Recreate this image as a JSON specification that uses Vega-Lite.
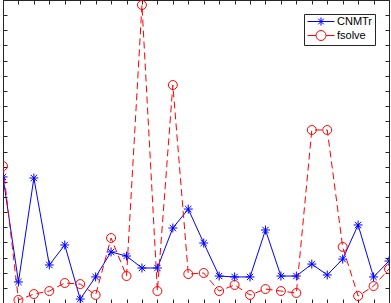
{
  "$schema": "https://vega.github.io/schema/vega-lite/v6.json",
  "width": 386,
  "height": 303,
  "autosize": {"type": "none"},
  "padding": {"left": 3, "top": 0, "right": 2, "bottom": 0},
  "background": "white",
  "config": {
    "view": {"stroke": null},
    "axis": {
      "labels": false,
      "title": null,
      "grid": false,
      "domainColor": "#262626",
      "domainWidth": 1,
      "tickColor": "#262626",
      "tickWidth": 1,
      "tickSize": -4
    },
    "legend": {
      "labelFont": "Liberation Sans",
      "labelFontSize": 11,
      "labelColor": "black",
      "strokeColor": "#262626",
      "fillColor": "white",
      "padding": 2,
      "rowPadding": 0,
      "cornerRadius": 0
    }
  },
  "data": {
    "values": [
      {"i": 1, "s": "CNMTr", "v": 8.32}, {"i": 2, "s": "CNMTr", "v": 1.39}, {"i": 3, "s": "CNMTr", "v": 8.25},
      {"i": 4, "s": "CNMTr", "v": 2.51}, {"i": 5, "s": "CNMTr", "v": 3.83}, {"i": 6, "s": "CNMTr", "v": 0.26},
      {"i": 7, "s": "CNMTr", "v": 1.72}, {"i": 8, "s": "CNMTr", "v": 3.37}, {"i": 9, "s": "CNMTr", "v": 3.10},
      {"i": 10, "s": "CNMTr", "v": 2.31}, {"i": 11, "s": "CNMTr", "v": 2.31}, {"i": 12, "s": "CNMTr", "v": 4.95},
      {"i": 13, "s": "CNMTr", "v": 6.20}, {"i": 14, "s": "CNMTr", "v": 3.96}, {"i": 15, "s": "CNMTr", "v": 1.78},
      {"i": 16, "s": "CNMTr", "v": 1.72}, {"i": 17, "s": "CNMTr", "v": 1.72}, {"i": 18, "s": "CNMTr", "v": 4.82},
      {"i": 19, "s": "CNMTr", "v": 1.78}, {"i": 20, "s": "CNMTr", "v": 1.78}, {"i": 21, "s": "CNMTr", "v": 2.57},
      {"i": 22, "s": "CNMTr", "v": 1.85}, {"i": 23, "s": "CNMTr", "v": 2.90}, {"i": 24, "s": "CNMTr", "v": 5.15},
      {"i": 25, "s": "CNMTr", "v": 1.72}, {"i": 26, "s": "CNMTr", "v": 2.77},
      {"i": 1, "s": "fsolve", "v": 9.04}, {"i": 2, "s": "fsolve", "v": 0.20}, {"i": 3, "s": "fsolve", "v": 0.59},
      {"i": 4, "s": "fsolve", "v": 0.79}, {"i": 5, "s": "fsolve", "v": 1.32}, {"i": 6, "s": "fsolve", "v": 1.25},
      {"i": 7, "s": "fsolve", "v": 0.53}, {"i": 8, "s": "fsolve", "v": 4.29}, {"i": 9, "s": "fsolve", "v": 1.78},
      {"i": 10, "s": "fsolve", "v": 19.67}, {"i": 11, "s": "fsolve", "v": 0.79}, {"i": 12, "s": "fsolve", "v": 14.39},
      {"i": 13, "s": "fsolve", "v": 1.91}, {"i": 14, "s": "fsolve", "v": 1.98}, {"i": 15, "s": "fsolve", "v": 0.79},
      {"i": 16, "s": "fsolve", "v": 1.19}, {"i": 17, "s": "fsolve", "v": 0.53}, {"i": 18, "s": "fsolve", "v": 0.92},
      {"i": 19, "s": "fsolve", "v": 0.79}, {"i": 20, "s": "fsolve", "v": 0.66}, {"i": 21, "s": "fsolve", "v": 11.42},
      {"i": 22, "s": "fsolve", "v": 11.42}, {"i": 23, "s": "fsolve", "v": 3.70}, {"i": 24, "s": "fsolve", "v": 0.46},
      {"i": 25, "s": "fsolve", "v": 1.12}, {"i": 26, "s": "fsolve", "v": 2.24}
    ]
  },
  "resolve": {"axis": {"x": "independent", "y": "independent"}},
  "layer": [
    {
      "transform": [{"filter": "datum.s === 'CNMTr'"}],
      "mark": {"type": "line", "strokeWidth": 1, "clip": true},
      "encoding": {
        "x": {"field": "i", "type": "quantitative", "scale": {"domain": [1, 26], "nice": false, "zero": false},
              "axis": {"orient": "bottom", "values": [1,2,3,4,5,6,7,8,9,10,11,12,13,14,15,16,17,18,19,20,21,22,23,24,25,26]}},
        "y": {"field": "v", "type": "quantitative", "scale": {"domain": [0, 20], "nice": false},
              "axis": {"orient": "left", "values": [0,1,2,3,4,5,6,7,8,9,10,11,12,13,14,15,16,17,18,19,20]}},
        "color": {"field": "s", "type": "nominal", "scale": {"domain": ["CNMTr", "fsolve"], "range": ["#0000ff", "#ff0000"]},
                  "legend": {"title": null, "orient": "top-right", "offset": 14, "symbolSize": 64, "labelOffset": 20,
                             "encode": {"symbols": {"update": {
                               "shape": {"signal": "datum.value === 'CNMTr' ? 'M-1,0L5.75,0M1.375,0L3.375,0M2.375,-1L2.375,1M1.67,-0.71L3.08,0.71M1.67,0.71L3.08,-0.71' : 'M-1,0L1.125,0M3.625,0L5.75,0M1.125,0A1.25,1.25,0,1,0,3.625,0A1.25,1.25,0,1,0,1.125,0'"},
                               "fill": {"value": "transparent"},
                               "strokeWidth": {"value": 1}
                             }}}}}
      }
    },
    {
      "transform": [{"filter": "datum.s === 'fsolve'"}],
      "mark": {"type": "line", "strokeWidth": 1, "strokeDash": [7, 4], "clip": true},
      "encoding": {
        "x": {"field": "i", "type": "quantitative", "scale": {"domain": [1, 26], "nice": false, "zero": false},
              "axis": {"orient": "top", "values": [1,2,3,4,5,6,7,8,9,10,11,12,13,14,15,16,17,18,19,20,21,22,23,24,25,26]}},
        "y": {"field": "v", "type": "quantitative", "scale": {"domain": [0, 20], "nice": false},
              "axis": {"orient": "right", "values": [0,1,2,3,4,5,6,7,8,9,10,11,12,13,14,15,16,17,18,19,20]}},
        "color": {"field": "s", "type": "nominal", "legend": null}
      }
    },
    {
      "transform": [{"filter": "datum.s === 'CNMTr'"}],
      "mark": {"type": "point", "filled": false, "strokeWidth": 1, "size": 80, "opacity": 1, "clip": true,
               "shape": "M-1,0L1,0M0,-1L0,1M-0.71,-0.71L0.71,0.71M-0.71,0.71L0.71,-0.71"},
      "encoding": {
        "x": {"field": "i", "type": "quantitative", "axis": null},
        "y": {"field": "v", "type": "quantitative", "axis": null},
        "color": {"field": "s", "type": "nominal", "legend": null}
      }
    },
    {
      "transform": [{"filter": "datum.s === 'fsolve'"}],
      "mark": {"type": "point", "filled": false, "strokeWidth": 1, "size": 80, "opacity": 1, "clip": true, "shape": "circle"},
      "encoding": {
        "x": {"field": "i", "type": "quantitative", "axis": null},
        "y": {"field": "v", "type": "quantitative", "axis": null},
        "color": {"field": "s", "type": "nominal", "legend": null}
      }
    }
  ]
}
